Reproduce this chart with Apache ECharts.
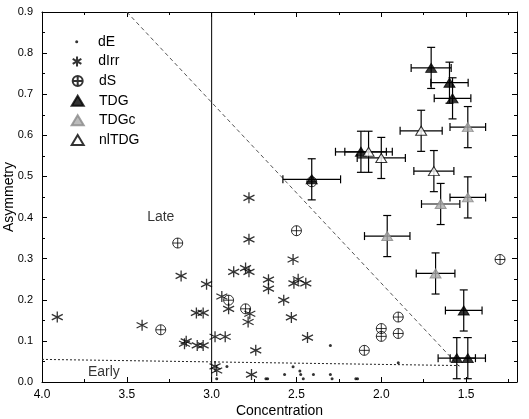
<!DOCTYPE html>
<html>
<head>
<meta charset="utf-8">
<script src="https://cdn.jsdelivr.net/npm/echarts@6/dist/echarts.min.js"></script>
<style>html,body{margin:0;padding:0;background:#fff;}#c{width:529px;height:419px;}</style>
</head>
<body>
<div id="c"></div>
<script>
// ---- data ----
const dE = [[2.97,0.008],[2.91,0.038],[2.68,0.008],[2.67,0.008],[2.57,0.018],[2.52,0.037],[2.48,0.027],[2.475,0.018],[2.46,0.008],[2.40,0.018],[2.30,0.089],[2.30,0.018],[2.29,0.008],[2.15,0.008],[2.14,0.008],[1.90,0.047]];
const dIrr = [[3.91,0.158],[3.41,0.138],[3.18,0.258],[3.16,0.093],[3.15,0.099],[3.09,0.168],[3.05,0.168],[3.085,0.089],[3.05,0.089],[3.03,0.238],[2.98,0.11],[2.92,0.11],[2.94,0.208],[2.90,0.178],[2.87,0.268],[2.80,0.277],[2.78,0.268],[2.78,0.448],[2.78,0.347],[2.775,0.166],[2.785,0.146],[2.74,0.077],[2.765,0.018],[2.665,0.249],[2.665,0.227],[2.575,0.199],[2.53,0.157],[2.52,0.298],[2.515,0.24],[2.49,0.25],[2.445,0.24],[2.435,0.108],[2.98,0.038],[2.97,0.028]];
const dS = [[3.20,0.338],[3.30,0.127],[2.90,0.199],[2.80,0.178],[2.50,0.368],[1.30,0.298],[1.90,0.158],[2.00,0.13],[2.00,0.111],[1.90,0.118],[2.10,0.077],[2.41,0.487]];
// [concentration, asymmetry, xErr, yErr]
const TDG = [[1.706,0.764,0.118,0.05],[1.598,0.728,0.11,0.05],[1.58,0.69,0.108,0.05],[2.12,0.56,0.15,0.05],[2.41,0.493,0.17,0.05],[1.514,0.174,0.108,0.05],[1.555,0.058,0.11,0.05],[1.49,0.058,0.104,0.05]];
const TDGc = [[1.49,0.62,0.105,0.05],[1.65,0.433,0.113,0.05],[1.49,0.449,0.105,0.05],[1.965,0.355,0.134,0.05],[1.68,0.264,0.114,0.05]];
const nlTDG = [[1.765,0.611,0.124,0.05],[2.075,0.56,0.14,0.05],[2.00,0.545,0.142,0.05],[1.69,0.513,0.118,0.05]];
const divider = [[3.0,0],[3.0,0.9]];
const lateBoundary = [[3.5,0.9],[1.54,0.038]];
const earlyBoundary = [[4.0,0.055],[1.54,0.04]];
const annotations = [{name:'Late',value:[3.30,0.40]},{name:'Early',value:[3.635,0.024]}];
const xMajorTicks = [1.5,2.0,2.5,3.0,3.5,4.0];
const xMinorTicks = [1.25,1.75,2.25,2.75,3.25,3.75];
const legendNames = ['dE','dIrr','dS','TDG','TDGc','nlTDG'];

const FONT = 'Liberation Sans, Arial, sans-serif';
const asteriskPath = 'path://M5 0 L5 10 M0.67 2.5 L9.33 7.5 M0.67 7.5 L9.33 2.5';
const oplusPath = 'path://M10 5 A5 5 0 1 1 0 5 A5 5 0 1 1 10 5 Z M0 5 L10 5 M5 0 L5 10';

const chart = echarts.init(document.getElementById('c'), null, {renderer:'canvas'});

function xAxisDef(pos, ticks, len, showLine, showLabel, extra) {
  return Object.assign({
    type:'value', position:pos, inverse:true, min:1.2, max:4.0,
    axisLine:{show:showLine, onZero:false, lineStyle:{color:'#000',width:1}},
    axisTick:{show:true, inside:true, length:len, customValues:ticks, lineStyle:{color:'#000',width:1}},
    axisLabel:{show:showLabel, customValues:ticks, formatter:v=>Number(v).toFixed(1), color:'#000', fontSize:12, fontFamily:FONT, margin:7},
    splitLine:{show:false}
  }, extra||{});
}
function yAxisDef(pos, showLabel, extra) {
  return Object.assign({
    type:'value', position:pos, min:0, max:0.9, interval:0.1,
    axisLine:{show:true, onZero:false, lineStyle:{color:'#000',width:1}},
    axisTick:{show:true, inside:true, length:5, lineStyle:{color:'#000',width:1}},
    minorTick:{show:true, splitNumber:2, length:3, lineStyle:{color:'#000',width:1}},
    axisLabel:{show:showLabel, formatter:v=>Number(v).toFixed(1), color:'#000', fontSize:11, fontFamily:FONT, margin:9},
    splitLine:{show:false}, minorSplitLine:{show:false}
  }, extra||{});
}

const legendSizes = {dE:[3,3], dIrr:[10,10], dS:[10,10], TDG:[12,10], TDGc:[12,10], nlTDG:[12,10]};
const legendRows = [41.7,61.4,81,100.7,120.3,140];
const legends = legendNames.map((n,i)=>{
  const [w,h] = legendSizes[n];
  const cx = 76.7;
  return {
    data:[n], orient:'vertical', left: cx - w/2, top: legendRows[i] - 7, padding:0,
    itemWidth:w, itemHeight:h, selectedMode:false,
    textStyle:{fontSize:14, lineHeight:14, color:'#000', fontFamily:FONT, padding:[0,0,0, 98 - (cx + w/2 + 5)]}
  };
});

function errRender(params, api) {
  const x = api.value(0), y = api.value(1), xe = api.value(2), ye = api.value(3);
  const l = api.coord([x - xe, y]), r = api.coord([x + xe, y]);
  const t = api.coord([x, y + ye]), b = api.coord([x, y - ye]);
  const cap = 4;
  const st = {stroke:'#000', lineWidth:1.2};
  const line = (x1,y1,x2,y2)=>({type:'line', shape:{x1,y1,x2,y2}, style:st});
  return {type:'group', children:[
    line(l[0],l[1],r[0],r[1]),
    line(l[0],l[1]-cap,l[0],l[1]+cap),
    line(r[0],r[1]-cap,r[0],r[1]+cap),
    line(t[0],t[1],b[0],b[1]),
    line(t[0]-cap,t[1],t[0]+cap,t[1]),
    line(b[0]-cap,b[1],b[0]+cap,b[1])
  ]};
}

const option = {
  backgroundColor:'#fff',
  animation:false,
  textStyle:{fontFamily:FONT},
  grid:{left:42, right:12, top:12, bottom:37, containLabel:false, outerBoundsMode:'none'},
  legend: legends,
  xAxis:[
    xAxisDef('bottom', xMajorTicks, 5, true, true, {name:'Concentration', nameLocation:'middle', nameGap:22, nameMoveOverlap:false, nameTextStyle:{fontSize:14, color:'#000', fontFamily:FONT}}),
    xAxisDef('bottom', xMinorTicks, 3, false, false),
    xAxisDef('top', xMajorTicks, 5, true, false),
    xAxisDef('top', xMinorTicks, 3, false, false)
  ],
  yAxis:[
    yAxisDef('left', true, {name:'Asymmetry', nameLocation:'middle', nameGap:26, nameRotate:90, nameMoveOverlap:false, nameTextStyle:{fontSize:14, color:'#000', fontFamily:FONT}}),
    yAxisDef('right', false)
  ],
  series:[
    {type:'line', data:divider, symbol:'none', silent:true, lineStyle:{color:'#000', width:1}, z:1},
    {type:'line', data:lateBoundary, symbol:'none', silent:true, lineStyle:{color:'#555', width:1, type:[4,3]}, z:1},
    {type:'line', data:earlyBoundary, symbol:'none', silent:true, lineStyle:{color:'#222', width:1, type:[2,2]}, z:1},
    {type:'scatter', data:annotations, symbolSize:0, silent:true,
      label:{show:true, position:'inside', formatter:p=>p.name, color:'#000', fontSize:14, fontFamily:FONT}},
    {type:'custom', name:'errors', renderItem:errRender, data:TDG.concat(TDGc, nlTDG), silent:true, z:2},
    {type:'scatter', name:'dE', data:dE, symbol:'circle', symbolSize:3, itemStyle:{color:'#000'}, z:3},
    {type:'scatter', name:'dIrr', data:dIrr, symbol:asteriskPath, symbolSize:11,
      itemStyle:{color:'rgba(0,0,0,0)', borderColor:'#000', borderWidth:1.3}, z:3},
    {type:'scatter', name:'dS', data:dS, symbol:oplusPath, symbolSize:10,
      itemStyle:{color:'rgba(0,0,0,0)', borderColor:'#000', borderWidth:1}, z:3},
    {type:'scatter', name:'TDG', data:TDG, symbol:'triangle', symbolSize:[11,9], encode:{x:0,y:1},
      itemStyle:{color:'#000', borderColor:'#000', borderWidth:1}, z:4},
    {type:'scatter', name:'TDGc', data:TDGc, symbol:'triangle', symbolSize:[11,9], encode:{x:0,y:1},
      itemStyle:{color:'#aaaaaa', borderColor:'#888888', borderWidth:1}, z:4},
    {type:'scatter', name:'nlTDG', data:nlTDG, symbol:'triangle', symbolSize:[11,9], encode:{x:0,y:1},
      itemStyle:{color:'#ffffff', borderColor:'#000', borderWidth:1}, z:4}
  ]
};
chart.setOption(option);
</script>
</body>
</html>
